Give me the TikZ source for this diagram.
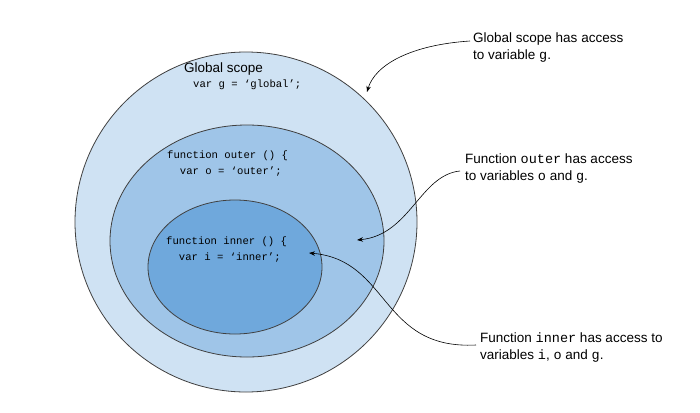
\documentclass[tikz,border=0pt]{standalone}
\usepackage{fontspec}
\setmainfont{Liberation Sans}
\setmonofont{Liberation Mono}
\usetikzlibrary{arrows.meta}
\definecolor{c1}{HTML}{CFE2F3}
\definecolor{c2}{HTML}{9FC5E8}
\definecolor{c3}{HTML}{6FA8DC}
\tikzset{scopeell/.style={draw=black!75,line width=0.8pt},
  lbl/.style={anchor=north west,align=left,font=\fontsize{13.5}{17}\selectfont,inner sep=0pt},
  code/.style={anchor=north west,align=left,font=\ttfamily\fontsize{10.6}{16}\selectfont,inner sep=0pt},
  arr/.style={-{Stealth[length=6pt]},black,line width=0.6pt}}
\begin{document}
\begin{tikzpicture}[x=1pt,y=-1pt]
\useasboundingbox[fill=white] (0,0) rectangle (700,412);
\draw[scopeell,fill=c1] (246,222) ellipse [x radius=171,y radius=170];
\draw[scopeell,fill=c2] (247,241) ellipse [x radius=137,y radius=116];
\draw[scopeell,fill=c3] (235,267) ellipse [x radius=87,y radius=67];
\coordinate (gtip) at (367,92);
\coordinate (otip) at (357,240);
\coordinate (itip) at (309,253);
\node[lbl] (gs) at (184,63) {Global scope};
\node[code] (gc) at (193,80) {var g = ‘global’;};
\node[code] (oc) at (167,151) {function outer () \{\\\ \ var o = ‘outer’;};
\node[code] (ic) at (166,237) {function inner () \{\\\ \ var i = ‘inner’;};
\node[lbl] (ga) at (473,33) {Global scope has access\\to variable \texttt{g}.};
\node[lbl] (oa) at (465,154) {Function \texttt{outer} has access\\to variables \texttt{o} and \texttt{g}.};
\node[lbl] (ia) at (480,333) {Function \texttt{inner} has access to\\variables \texttt{i}, \texttt{o} and \texttt{g}.};
\draw[arr] ([xshift=-3pt,yshift=-8pt]ga.north west) .. controls (410,45) and (375,65) .. (gtip);
\draw[arr] ([xshift=-5pt,yshift=-17pt]oa.north west) .. controls (420,175) and (410,235) .. (otip);
\draw[arr] ([xshift=-4pt,yshift=-12pt]ia.north west) .. controls (380,350) and (390,260) .. (itip);
\end{tikzpicture}
\end{document}
